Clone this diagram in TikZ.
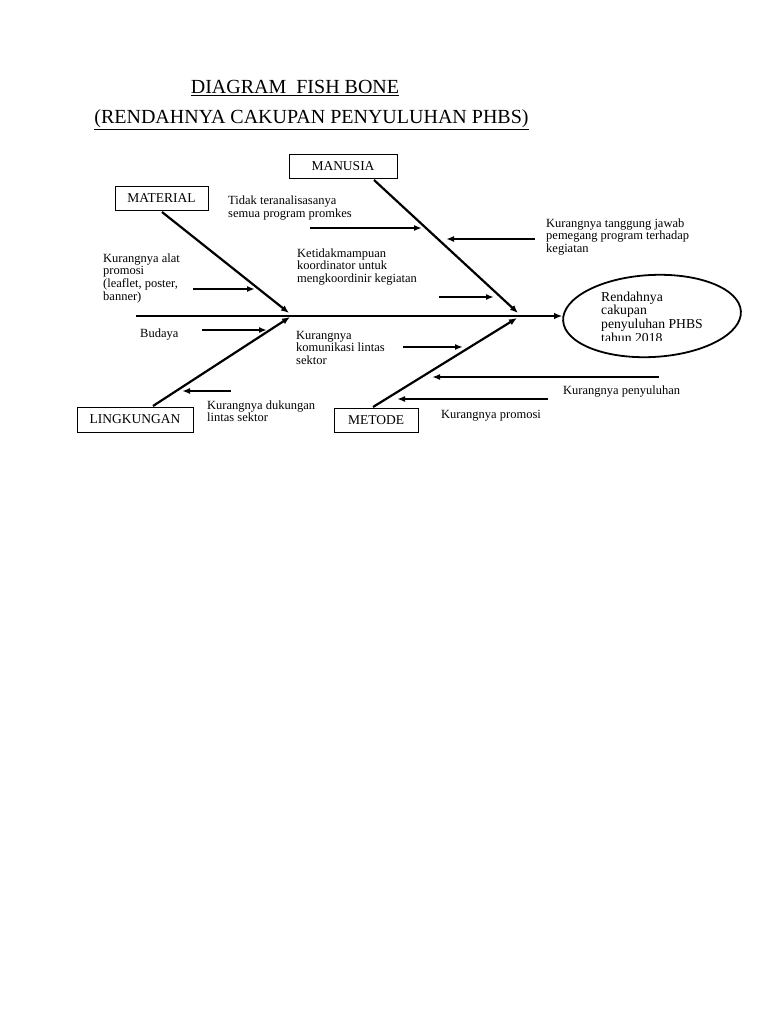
\documentclass[tikz,border=0pt]{standalone}
\usepackage{fontspec}
\setmainfont{Liberation Serif}
\usetikzlibrary{arrows.meta,shapes.geometric}
\begin{document}
\begin{tikzpicture}[x=1pt,y=-1pt,
  catbox/.style={draw,line width=0.9pt,inner sep=0pt,font=\fontsize{13.5}{15}\selectfont},
  cause/.style={anchor=base west,inner sep=0pt,font=\fontsize{12.5}{12.7}\selectfont},
  bone/.style={line width=2.2pt,-{Latex[length=8pt,width=6.5pt]}},
  subarrow/.style={line width=2pt,-{Latex[length=8pt,width=6pt]}},
  titletext/.style={anchor=base,inner sep=0pt,font=\fontsize{20}{24}\selectfont}]
\fill[white] (0,0) rectangle (768,1024);
\useasboundingbox (0,0) rectangle (768,1024);

% title
\node[titletext] (title1) at (295,94) {\underline{DIAGRAM\ \ FISH BONE}};
\node[titletext] (title2) at (311.5,124) {\underline{(RENDAHNYA CAKUPAN PENYULUHAN PHBS)}};

% category boxes
\node[catbox,minimum width=108pt,minimum height=24pt] (manusia) at (343,166) {MANUSIA};
\node[catbox,minimum width=93pt,minimum height=24pt] (material) at (161.5,198) {MATERIAL};
\node[catbox,minimum width=116pt,minimum height=25pt] (lingkungan) at (135,419.5) {LINGKUNGAN};
\node[catbox,minimum width=84pt,minimum height=24pt] (metode) at (376,420) {METODE};

% effect
\node[draw,ellipse,line width=1.8pt,minimum width=178pt,minimum height=82pt,rotate=3] (effect) at (652,316) {};
\begin{scope}
\clip (590,280) rectangle (725,340);
\node[anchor=base west,inner sep=0pt,font=\fontsize{13.7}{13.7}\selectfont] (effecttext) at (601,301)
  {\begin{tabular}[t]{@{}l@{}}Rendahnya\\cakupan\\penyuluhan PHBS\\tahun 2018\end{tabular}};
\end{scope}

% spine
\coordinate (tail) at (136,316);
\draw[bone] (tail) -- (effect.west |- tail);

% bones
\coordinate (manusiafoot) at (374,180);
\coordinate (manusiatip) at (518,313);
\coordinate (materialfoot) at (162,212);
\coordinate (materialtip) at (289,313);
\coordinate (lingkunganfoot) at (153,406);
\coordinate (lingkungantip) at (290,317);
\coordinate (metodefoot) at (373,407);
\coordinate (metodetip) at (517,318);
\draw[bone] (manusiafoot) -- (manusiatip);
\draw[bone] (materialfoot) -- (materialtip);
\draw[bone] (lingkunganfoot) -- (lingkungantip);
\draw[bone] (metodefoot) -- (metodetip);

% sub-cause arrows
\coordinate (a1s) at (310,228); \coordinate (a1e) at (422,228);
\coordinate (a2s) at (535,239); \coordinate (a2e) at (446,239);
\coordinate (a3s) at (439,297); \coordinate (a3e) at (494,297);
\coordinate (a4s) at (193,289); \coordinate (a4e) at (255,289);
\coordinate (a5s) at (202,330); \coordinate (a5e) at (267,330);
\coordinate (a6s) at (403,347); \coordinate (a6e) at (463,347);
\coordinate (a7s) at (231,391); \coordinate (a7e) at (182,391);
\coordinate (a8s) at (659,377); \coordinate (a8e) at (432,377);
\coordinate (a9s) at (548,399); \coordinate (a9e) at (397,399);
\foreach \i in {1,...,9} {\draw[subarrow] (a\i s) -- (a\i e);}

% cause texts
\node[cause] (t1) at (228,205) {\begin{tabular}[t]{@{}l@{}}Tidak teranalisasanya\\semua program promkes\end{tabular}};
\node[cause] (t2) at (546,227) {\begin{tabular}[t]{@{}l@{}}Kurangnya tanggung jawab\\pemegang program terhadap\\kegiatan\end{tabular}};
\node[cause] (t3) at (297,257) {\begin{tabular}[t]{@{}l@{}}Ketidakmampuan\\koordinator untuk\\mengkoordinir kegiatan\end{tabular}};
\node[cause] (t4) at (103,262) {\begin{tabular}[t]{@{}l@{}}Kurangnya alat\\promosi\\(leaflet, poster,\\banner)\end{tabular}};
\node[cause] (t5) at (140,337) {Budaya};
\node[cause] (t6) at (296,339) {\begin{tabular}[t]{@{}l@{}}Kurangnya\\komunikasi lintas\\sektor\end{tabular}};
\node[cause] (t7) at (207,409) {\begin{tabular}[t]{@{}l@{}}Kurangnya dukungan\\lintas sektor\end{tabular}};
\node[cause] (t8) at (563,394) {Kurangnya penyuluhan};
\node[cause] (t9) at (441,418) {Kurangnya promosi};
\end{tikzpicture}
\end{document}
